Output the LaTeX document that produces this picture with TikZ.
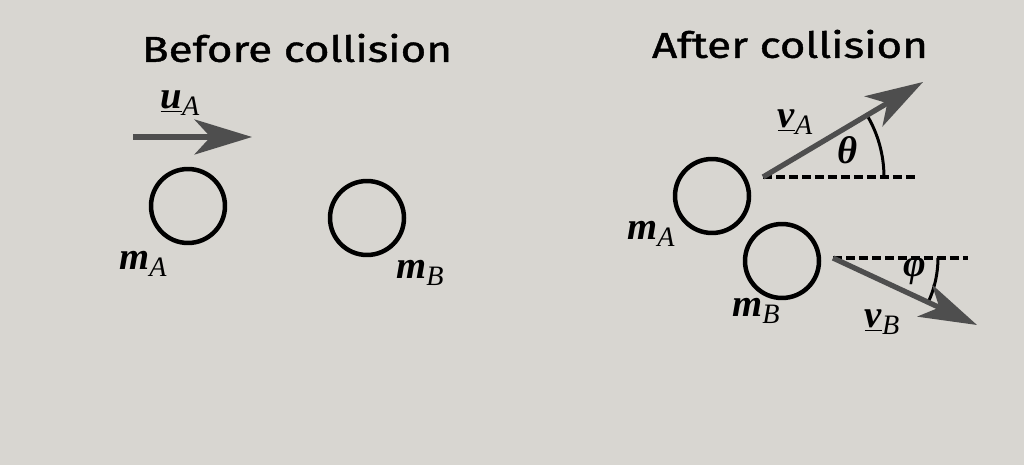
\documentclass[tikz,border=0pt]{standalone}
\usepackage{fontspec}
\setmainfont{Fira Sans}
\newfontfamily\titlefont[FakeStretch=1.22,FakeBold=1.2]{Fira Sans}
\newfontfamily\lblfont{Liberation Serif}
\usetikzlibrary{arrows.meta}
\definecolor{paper}{RGB}{216,214,209}
\definecolor{arrowgray}{RGB}{78,78,78}
% bold italic symbol with a lowered subscript
\newcommand{\vsym}[2]{{\lblfont\bfseries\itshape #1\raisebox{-0.4ex}{\mdseries\fontsize{16}{16}\selectfont #2}}}

\begin{document}
\begin{tikzpicture}[x=0.02cm,y=-0.02cm,
  ball/.style={circle,draw,line width=0.09cm,minimum size=1.48cm,inner sep=0pt},
  vel/.style={draw=arrowgray,line width=0.105cm,-{Stealth[length=1.15cm,width=0.7cm,inset=0.32cm]}},
  refline/.style={line width=0.075cm,dash pattern=on 0.18cm off 0.08cm},
  lbl/.style={font=\fontsize{22}{22}\selectfont},
  ttl/.style={font=\titlefont\fontsize{20.5}{20.5}\selectfont}]
\fill[paper] (0,0) rectangle (1024,465);
\useasboundingbox (0,0) rectangle (1024,465);
%\draw (0,0) to[grid with coordinates] (1024,465);
\node[ttl] (before) at (297,48) {Before collision};
\node[ttl] (after) at (790,44) {After collision};
% before
\node[ball] (A0) at (188,206) {};
\node[ball] (B0) at (367,218) {};
\node[lbl] (mA0) at (143,264) {\vsym{m}{A}};
\node[lbl] (mB0) at (420,273) {\vsym{m}{B}};
\coordinate (uA0) at (133,137);
\coordinate (uA1) at (252,137);
\draw[vel] (uA0) -- (uA1);
\node[lbl] (uA) at (180,103) {\vsym{\underline{u}}{A}};
% after
\node[ball] (A1) at (712,196) {};
\node[ball] (B1) at (782,261) {};
\node[lbl] (mA1) at (651,234) {\vsym{m}{A}};
\node[lbl] (mB1) at (756,311) {\vsym{m}{B}};
\coordinate (tA) at (763,177);
\coordinate (hA) at (915,177);
\coordinate (tB) at (833,258);
\coordinate (hB) at (968,258);
\draw[refline] (tA) -- (hA);
\draw[refline] (tB) -- (hB);
\draw[line width=0.06cm] ([xshift=2.42cm]tA) arc[start angle=0,end angle=31,radius=2.42cm];
\draw[line width=0.06cm] ([xshift=2.1cm]tB) arc[start angle=0,end angle=-25,radius=2.1cm];
\coordinate (vA) at (923,82);
\coordinate (vB) at (977,325);
\draw[vel] (tA) -- (vA);
\draw[vel] (tB) -- (vB);
\node[lbl] (vAl) at (795,122) {\vsym{\underline{v}}{A}};
\node[lbl] (vBl) at (882,322) {\vsym{\underline{v}}{B}};
\node[lbl] (th) at (848,150) {\lblfont\bfseries\itshape θ};
\node[lbl] (ph) at (915,272) {\lblfont\bfseries\itshape φ};
\end{tikzpicture}
\end{document}
